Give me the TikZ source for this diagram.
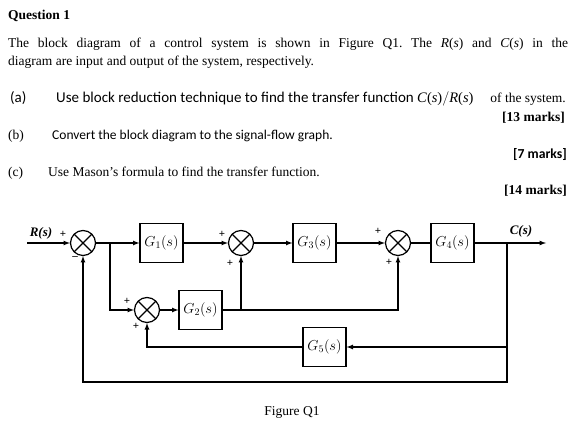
\documentclass[tikz,border=0pt]{standalone}
\usepackage{fontspec}
\setmainfont{Liberation Serif}
\newfontfamily\carlito{Carlito}
\usetikzlibrary{positioning}
\frenchspacing

\tikzset{
  block/.style={draw,line width=1.2pt,minimum width=43pt,minimum height=39pt,inner sep=0pt,font=\fontsize{14}{16}\selectfont},
  sumnode/.style={draw,line width=1.2pt,circle,minimum size=25pt,inner sep=0pt,
    path picture={\draw[line width=1.2pt] (path picture bounding box.south west) -- (path picture bounding box.north east)
      (path picture bounding box.north west) -- (path picture bounding box.south east);}},
  sig/.style={line width=1.2pt,-latex},
  wire/.style={line width=1.2pt},
  sgn/.style={font=\fontsize{11}{13}\selectfont\bfseries,inner sep=0pt},
  qtext/.style={anchor=base west,inner sep=0pt,font=\fontsize{13.5}{15}\selectfont},
  ctext/.style={anchor=base west,inner sep=0pt,font=\fontsize{13.5}{15}\selectfont\carlito},
  marks/.style={anchor=base east,inner sep=0pt,font=\fontsize{13.5}{15}\selectfont\bfseries}
}

\begin{document}
\begin{tikzpicture}[x=1pt,y=-1pt]
  \useasboundingbox (0,0) rectangle (575,427);
  % question text
  \node[qtext,font=\fontsize{13.5}{15}\selectfont\bfseries] (qtitle) at (8,20) {Question 1};
  \node[qtext] (qline1) at (8,48) {\makebox[560pt][s]{The block diagram of a control system is shown in Figure Q1. The \textit{R}(\textit{s}) and \textit{C}(\textit{s}) in the}};
  \node[qtext] (qline2) at (8,66) {diagram are input and output of the system, respectively.};
  \node[ctext,font=\fontsize{15}{17}\selectfont\carlito] (qa) at (10,103) {(a)};
  \node[ctext,font=\fontsize{15}{17}\selectfont\carlito] (qatext) at (56,103) {Use block reduction technique to find the transfer function};
  \node[qtext,font=\fontsize{14.5}{16}\selectfont] (qafrac) at (417,103) {\textit{C}(\textit{s})$/$\textit{R}(\textit{s})};
  \node[qtext,anchor=base east] (qaend) at (566,103) {of the system.};
  \node[marks] (qamarks) at (565,122) {[13 marks]};
  \node[qtext] (qb) at (8,140) {(b)};
  \node[ctext] (qbtext) at (52,140) {Convert the block diagram to the signal-flow graph.};
  \node[marks,font=\fontsize{13.7}{15}\selectfont\carlito\bfseries] (qbmarks) at (567,159) {[7 marks]};
  \node[qtext] (qc) at (8,177) {(c)};
  \node[qtext] (qctext) at (48,177) {Use Mason's formula to find the transfer function.};
  \node[marks] (qcmarks) at (567,195) {[14 marks]};

  % block diagram
  \node[sumnode] (s1) at (83,243) {};
  \node[block] (g1) at (161.5,243) {$G_1(s)$};
  \node[sumnode] (s2) at (241,243) {};
  \node[block] (g3) at (314.5,243) {$G_3(s)$};
  \node[sumnode] (s3) at (398,243) {};
  \node[block] (g4) at (452.5,243) {$G_4(s)$};
  \node[sumnode] (s4) at (147,310) {};
  \node[block] (g2) at (200.5,310) {$G_2(s)$};
  \node[block] (g5) at (324.5,347) {$G_5(s)$};

  \coordinate (rin) at (27,243);
  \coordinate (br1) at (110,243);
  \coordinate (cbr) at (507,243);
  \coordinate (cout) at (546,243);
  \coordinate (fbr) at (507,382);

  \node[font=\fontsize{13}{15}\selectfont\bfseries\itshape] (rlabel) at (41,233) {R(s)};
  \node[font=\fontsize{13}{15}\selectfont\bfseries\itshape] (clabel) at (521,231) {C(s)};

  \draw[sig] (rin) -- (s1);
  \draw[sig] (s1) -- (g1);
  \draw[sig] (g1) -- (s2);
  \draw[sig] (s2) -- (g3);
  \draw[sig] (g3) -- (s3);
  \draw[wire] (s3) -- (g4);
  \draw[sig] (g4) -- (cout);
  \draw[sig] (br1) |- (s4);
  \draw[sig] (s4) -- (g2);
  \draw[sig] (g2) -| (s2);
  \draw[sig] (g2) -| (s3);
  \draw[sig] (cbr) |- (g5);
  \draw[sig] (g5) -| (s4);
  \draw[sig] (cbr) -- (fbr) -| (s1);

  % signs
  \node[sgn] (s1p) at (63,234) {+};
  \node[sgn] (s1m) at (75,258) {--};
  \node[sgn] (s2a) at (222,234) {+};
  \node[sgn] (s2b) at (230,263) {+};
  \node[sgn] (s4a) at (127,301) {+};
  \node[sgn] (s4b) at (136,326) {+};
  \node[sgn] (s3a) at (378,231) {+};
  \node[sgn] (s3b) at (389,262) {+};

  \node[qtext,anchor=base] (figcap) at (292,415) {Figure Q1};
\end{tikzpicture}
\end{document}
